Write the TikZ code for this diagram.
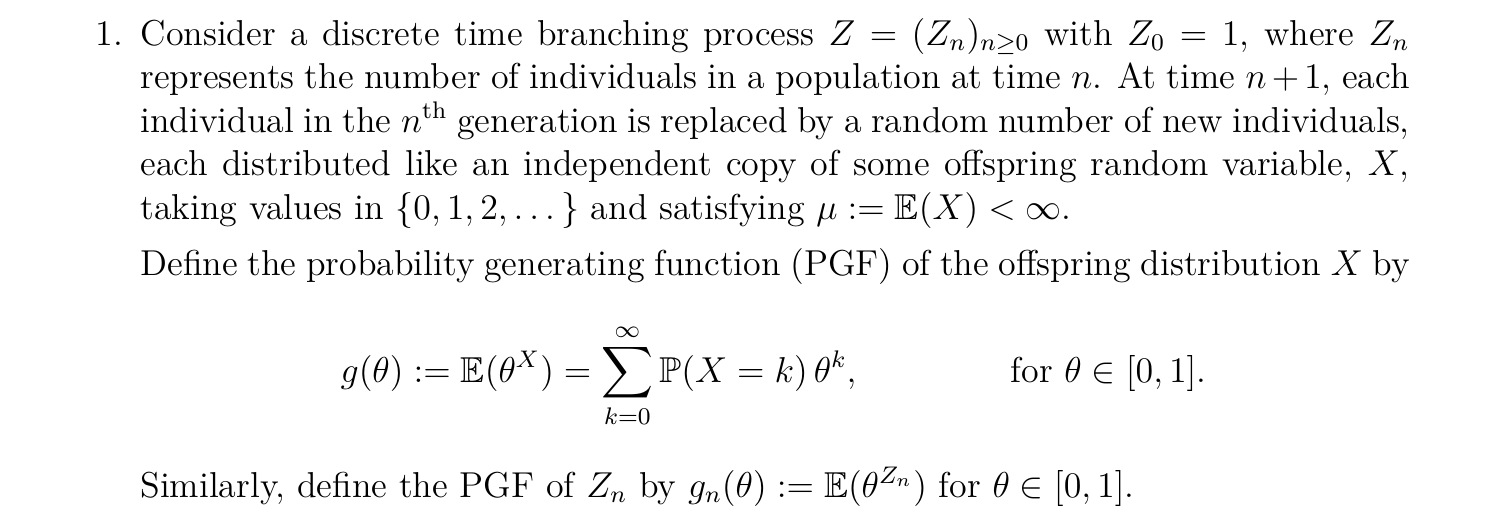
\documentclass[tikz,border=0pt]{standalone}
\usepackage{amsmath,amssymb}
\begin{document}
\begin{tikzpicture}[x=0.3333pt,y=-0.3333pt,
  txt/.style={inner sep=0pt,font=\fontsize{12}{14.5}\selectfont}]
\useasboundingbox (0,0) rectangle (1508,524);
\node[txt,anchor=base west] (num) at (95,45) {1.};
\node[txt,anchor=base west] (p1) at (140,45) {\parbox[t]{423pt}{\fontsize{12}{14.5}\selectfont\baselineskip=14.5pt\relax
Consider a discrete time branching process $Z=(Z_n)_{n\ge0}$ with $Z_0=1$, where $Z_n$ represents the number of individuals in a population at time $n$. At time $n+1$, each individual in the $n^{\text{th}}$ generation is replaced by a random number of new individuals, each distributed like an independent copy of some offspring random variable, $X$, taking values in $\{0,1,2,\dots\}$ and satisfying $\mu:=\mathbb{E}(X)<\infty$.}};
\node[txt,anchor=base west] (p2) at (140,275) {\spaceskip=3.2pt plus 1pt minus 1pt Define the probability generating function (PGF) of the offspring distribution $X$ by};
\node[txt,anchor=base west] (eq) at (340,382) {$\displaystyle g(\theta):=\mathbb{E}(\theta^X)=\sum_{k=0}^{\infty}\mathbb{P}(X=k)\,\theta^k,$};
\node[txt,anchor=base west] (for) at (1010,382) {for $\theta\in[0,1]$.};
\node[txt,anchor=base west] (p3) at (140,497) {Similarly, define the PGF of $Z_n$ by $g_n(\theta):=\mathbb{E}(\theta^{Z_n})$ for $\theta\in[0,1]$.};
\end{tikzpicture}
\end{document}
